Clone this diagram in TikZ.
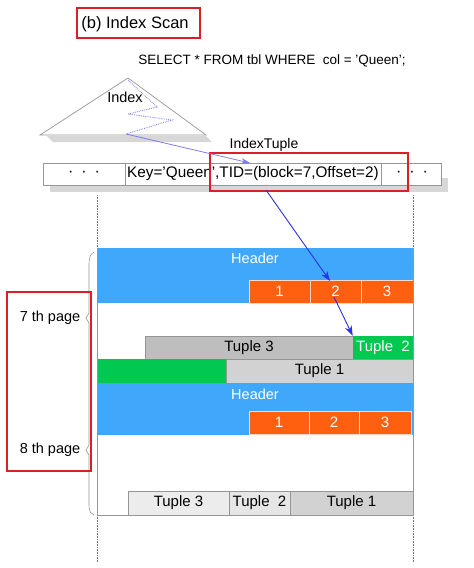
\documentclass[tikz,border=0pt]{standalone}
\usepackage{fontspec}
\setmainfont{Liberation Sans}
\usetikzlibrary{arrows.meta}
\definecolor{hdrblue}{RGB}{64,168,250}
\definecolor{slotorange}{RGB}{255,96,16}
\definecolor{tupgreen}{RGB}{0,200,80}
\definecolor{redbox}{RGB}{220,30,40}
\definecolor{arrowblue}{RGB}{40,50,235}
\definecolor{lightarrow}{RGB}{125,125,245}
\definecolor{framegray}{RGB}{150,150,150}
\definecolor{tupdark}{RGB}{190,190,190}
\definecolor{tupmid}{RGB}{210,210,210}
\definecolor{tuplight}{RGB}{236,236,236}
\definecolor{tuplighter}{RGB}{230,230,230}
\definecolor{shadowgray}{RGB}{215,215,215}
\begin{document}
\begin{tikzpicture}[x=1pt,y=-1pt,
  txt/.style={inner sep=0pt, font=\fontsize{14.5}{15}\selectfont},
  cell/.style 2 args={rectangle, inner sep=0pt, minimum width=#1 pt, minimum height=#2 pt},
  framed/.style={draw=framegray, line width=0.6pt},
  hdr/.style={fill=hdrblue},
  slot/.style={fill=slotorange, draw=white!75!slotorange, line width=0.6pt, text=white, font=\fontsize{15}{15}\selectfont},
  tuple/.style={draw=framegray, line width=0.6pt, font=\fontsize{15}{15}\selectfont},
  redframe/.style={draw=redbox, line width=1.8pt, rectangle, inner sep=0pt},
  link/.style={arrowblue, line width=0.9pt, -{Stealth[length=10pt,width=7pt]}},
  guide/.style={framegray!80!black, densely dotted, line width=0.6pt}
]
\useasboundingbox (0,0) rectangle (474,568);

% title and query
\node[redframe, cell={123}{30}] (title) at (138.5,23) {};
\node[txt, font=\fontsize{16.5}{17}\selectfont] (titletext) at (135,24) {(b) Index Scan};
\node[txt, font=\fontsize{13.5}{14}\selectfont] (sql) at (272,61) {SELECT * FROM tbl WHERE\ \ col = ’Queen’;};

% index triangle
\fill[shadowgray] (47,136) -- (206,136) -- (212,142) -- (53,142) -- cycle;
\coordinate (apex) at (128,78);
\coordinate (bl) at (40,135);
\coordinate (br) at (206,135);
\draw[framegray, line width=0.7pt, fill=white] (apex) -- (bl) -- (br) -- cycle;
\node[txt] (indexlbl) at (125,97) {Index};
\coordinate (z0) at (128,80);
\coordinate (z1) at (157,107);
\coordinate (z2) at (128,114);
\coordinate (z3) at (172,120);
\coordinate (z4) at (126,134);
\draw[lightarrow, densely dotted, line width=0.8pt] (z0) -- (z1) -- (z2) -- (z3) -- (z4);

% index tuple row
\node[txt, font=\fontsize{14}{14}\selectfont] (itlbl) at (264,145) {IndexTuple};
\fill[shadowgray] (50,178) rectangle (448,192);
\node[cell={82}{22}, framed, fill=white] (c1) at (84,174) {};
\node[cell={256}{22}, framed, fill=white] (c2) at (253,174) {};
\node[cell={60}{22}, framed, fill=white] (c3) at (411,174) {};
\node[txt, font=\fontsize{16}{16}\selectfont] (d1) at (84,174) {·\hspace{8pt}·\hspace{8pt}·};
\node[txt, font=\fontsize{16}{16}\selectfont] (d3) at (412,174) {·\hspace{8pt}·\hspace{8pt}·};
\node[txt, font=\fontsize{15.3}{15}\selectfont, anchor=west] (keytext) at (127,174) {Key=’Queen’,TID=(block=7,Offset=2)};
\node[redframe, cell={198}{38}] (tidbox) at (309,172) {};

% index arrow
\draw[lightarrow, line width=0.8pt, -{Stealth[length=9pt,width=6pt]}] (z4) -- (250,163);

% dotted guides
\coordinate (gl1) at (97,195);
\coordinate (gr1) at (413,195);
\coordinate (gl2) at (97,562);
\coordinate (gr2) at (413,562);
\draw[guide] (gl1) -- (97,248);
\draw[guide] (gr1) -- (413,248);
\draw[guide] (97,515) -- (gl2);
\draw[guide] (413,515) -- (gr2);

% page 7
\node[cell={316}{55}, hdr] (hdr7) at (255,275.5) {};
\node[txt, text=white] (hdr7lbl) at (255,258) {Header};
\node[cell={61}{23}, slot] (s71) at (279.5,291.5) {1};
\node[cell={51}{23}, slot] (s72) at (335.5,291.5) {2};
\node[cell={52}{23}, slot] (s73) at (387,291.5) {3};
\node[cell={208}{23}, tuple, fill=tupdark] (t73) at (249,347.5) {Tuple 3};
\node[cell={60}{23}, tuple, fill=tupgreen, draw=tupgreen, text=white] (t72) at (383,347.5) {Tuple\ \ 2};
\node[cell={129}{24}, fill=tupgreen] (g7) at (161.5,371) {};
\node[cell={187}{24}, tuple, fill=tupmid] (t71) at (319.5,371) {Tuple 1};

% page 8
\node[cell={316}{52}, hdr] (hdr8) at (255,409) {};
\node[txt, text=white] (hdr8lbl) at (255,394) {Header};
\node[cell={60}{23}, slot] (s81) at (279,422.5) {1};
\node[cell={50}{23}, slot] (s82) at (334,422.5) {2};
\node[cell={52}{23}, slot] (s83) at (385,422.5) {3};
\node[cell={101}{24}, tuple, fill=tuplight] (t83) at (178.5,503) {Tuple 3};
\node[cell={61}{24}, tuple, fill=tuplighter] (t82) at (259.5,503) {Tuple\ \ 2};
\node[cell={123}{24}, tuple, fill=tupmid] (t81) at (351.5,503) {Tuple 1};

% page frame
\draw[framegray, line width=0.7pt] (97,248) -- (97,515) -- (413,515) -- (413,248);

% pointer arrows
\coordinate (a2s) at (266,190);
\draw[link] (a2s) -- (330,281);
\coordinate (a3s) at (334,297);
\draw[link] (a3s) -- (t72.north west);

% brace and page labels
\draw[framegray, line width=0.6pt] (94,252) .. controls (90,254) and (89,258) .. (89,266) -- (89,313) -- (86,318) -- (89,323) -- (89,445) -- (86,450) -- (89,455) -- (89,505) .. controls (89,512) and (91,514) .. (94,515);
\node[redframe, cell={84}{179}] (pagebox) at (49,381.5) {};
\node[txt] (p7) at (50,318) {7 th page};
\node[txt] (p8) at (50,450) {8 th page};
\end{tikzpicture}
\end{document}
